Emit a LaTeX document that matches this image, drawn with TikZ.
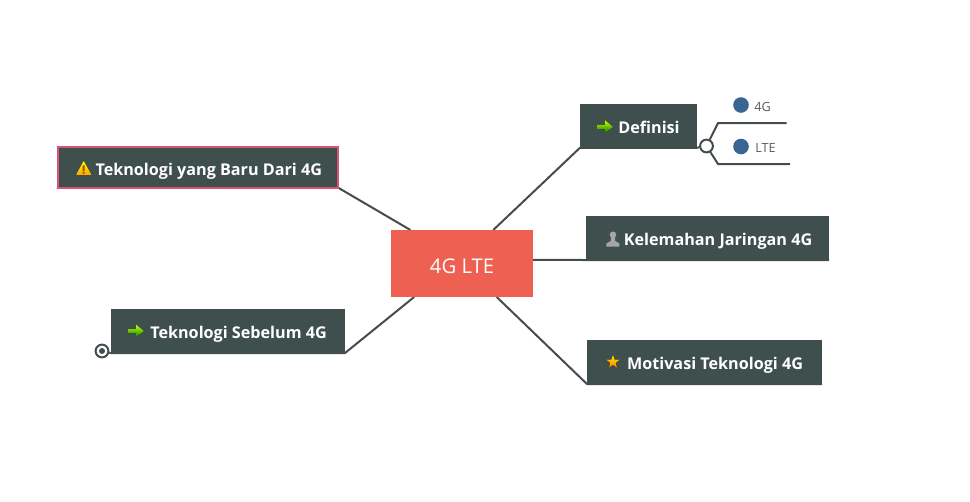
\documentclass[tikz,border=0pt]{standalone}
\usepackage{fontspec}
\setmainfont{Open Sans}
\usepackage{xcolor}
\usepackage{tikz}
\usetikzlibrary{backgrounds}
\definecolor{boxgreen}{HTML}{3F4F4E}
\definecolor{linegrey}{HTML}{454C50}
\definecolor{rootred}{HTML}{EE6052}
\definecolor{alertpink}{HTML}{DC5474}
\definecolor{dotblue}{HTML}{3A6491}
\definecolor{subgrey}{HTML}{555B5E}

\begin{document}
\begin{tikzpicture}[
  x=0.025cm, y=-0.025cm,
  root/.style={rectangle, fill=rootred, text=white, inner sep=0pt, outer sep=0pt, minimum width=3.55cm, minimum height=1.675cm, text height=13.8pt, text depth=0pt, font=\fontsize{14.4}{18}\selectfont},
  topic/.style={rectangle, fill=boxgreen, text=white, inner sep=0pt, outer sep=0pt, minimum height=1.1cm, text height=11pt, text depth=0pt, font=\fontsize{11.5}{15}\selectfont\bfseries},
  link/.style={draw=linegrey, line width=0.05cm},
  toggle/.style={circle, draw=linegrey, line width=0.05cm, fill=white, inner sep=0pt, minimum size=0.32cm},
  bullet/.style={circle, fill=dotblue, inner sep=0pt, minimum size=0.39cm},
  subtext/.style={text=subgrey, inner sep=0pt, font=\fontsize{9}{12}\selectfont},
  arrowicon/.pic={\fill[top color=lime!80!yellow, bottom color=green!50!black] (-8,-2) -- (0,-2) -- (0,-6.5) -- (8,0) -- (0,6.5) -- (0,2) -- (-8,2) -- cycle;},
  warnicon/.pic={\fill[top color=yellow, bottom color=orange!70!yellow, rounded corners=0.5pt] (0,-7.5) -- (7.8,6.5) -- (-7.8,6.5) -- cycle;
    \fill[orange!60!black] (-1,-3) rectangle (1,2.5) (-1,3.5) rectangle (1,5.3);},
  usericon/.pic={\fill[black!35] (0,-4.2) circle (3.3);
    \fill[black!35] (-1.8,-2) -- (1.8,-2) -- (2.2,2) -- (6.5,4.5) -- (6.5,7.5) -- (-6.5,7.5) -- (-6.5,4.5) -- (-2.2,2) -- cycle;},
  staricon/.pic={\fill[top color=yellow!80!orange, bottom color=orange] (0,-7) -- (1.7,-2.4) -- (6.6,-2.3) -- (2.7,0.9) -- (4.1,5.8) -- (0,2.8) -- (-4.1,5.8) -- (-2.7,0.9) -- (-6.6,-2.3) -- (-1.7,-2.4) -- cycle;}
]

\useasboundingbox (0,0) rectangle (970,501);

% Centre
\node[root] (lte) at (462,263.5) {4G LTE};

% Right side
\node[topic, minimum width=2.925cm] (definisi) at (638.5,125.75) {\hspace{15pt}Definisi};
\node[topic, minimum width=6.075cm] (kelemahan) at (707.5,238) {\hspace{15pt}Kelemahan Jaringan 4G};
\node[topic, minimum width=5.875cm] (motivasi) at (704.5,362) {\hspace{15pt}Motivasi Teknologi 4G};

% Left side
\node[topic, draw=alertpink, line width=0.05cm, minimum width=7cm, minimum height=1.02cm] (baru) at (198.25,167.35) {\hspace{15pt}Teknologi yang Baru Dari 4G};
\node[topic, minimum width=5.85cm] (sebelum) at (228,331) {\hspace{15pt}Teknologi Sebelum 4G};

% Icons
\pic[shift={(25,1)}] at (definisi.west) {arrowicon};
\pic[shift={(27,1)}] at (kelemahan.west) {usericon};
\pic[shift={(26,0)}] at (motivasi.west) {staricon};
\pic[shift={(25.5,1)}] at (baru.west) {warnicon};
\pic[shift={(25,0)}] at (sebelum.west) {arrowicon};

% Sub topics
\node[toggle] (fold) at (706.5,146) {};
\node[toggle] (focus) at (102,351) {};
\node[circle, fill=linegrey, inner sep=0pt, minimum size=0.15cm] (focusdot) at (focus) {};
\node[bullet] (dotfour) at (741,105) {};
\node[bullet] (dotlte) at (741,146.5) {};
\node[subtext, right=0pt] (subfour) at (754,106.5) {4G};
\node[subtext, right=0pt] (sublte) at (755,148) {LTE};
\coordinate (upbend) at (718,123);
\coordinate (upend) at (786.5,123);
\coordinate (lowbend) at (718,164);
\coordinate (lowend) at (790,164);

% Connectors
\begin{scope}[on background layer]
\draw[link] (lte.47) -- (definisi.south west) -- (definisi.south east) -- (fold);
\draw[link] (lte.3) -- (kelemahan.south west) -- (kelemahan.south east);
\draw[link] (lte.-44) -- (motivasi.south west) -- (motivasi.south east);
\draw[link] (lte.147.7) -- (baru.south east) -- ([xshift=-1pt]baru.south west);
\draw[link] (lte.215.5) -- (sebelum.south east) -- (sebelum.south west) -- (focus);
\draw[link] (fold) -- (upbend) -- (upend);
\draw[link] (fold) -- (lowbend) -- (lowend);
\end{scope}

\end{tikzpicture}
\end{document}
